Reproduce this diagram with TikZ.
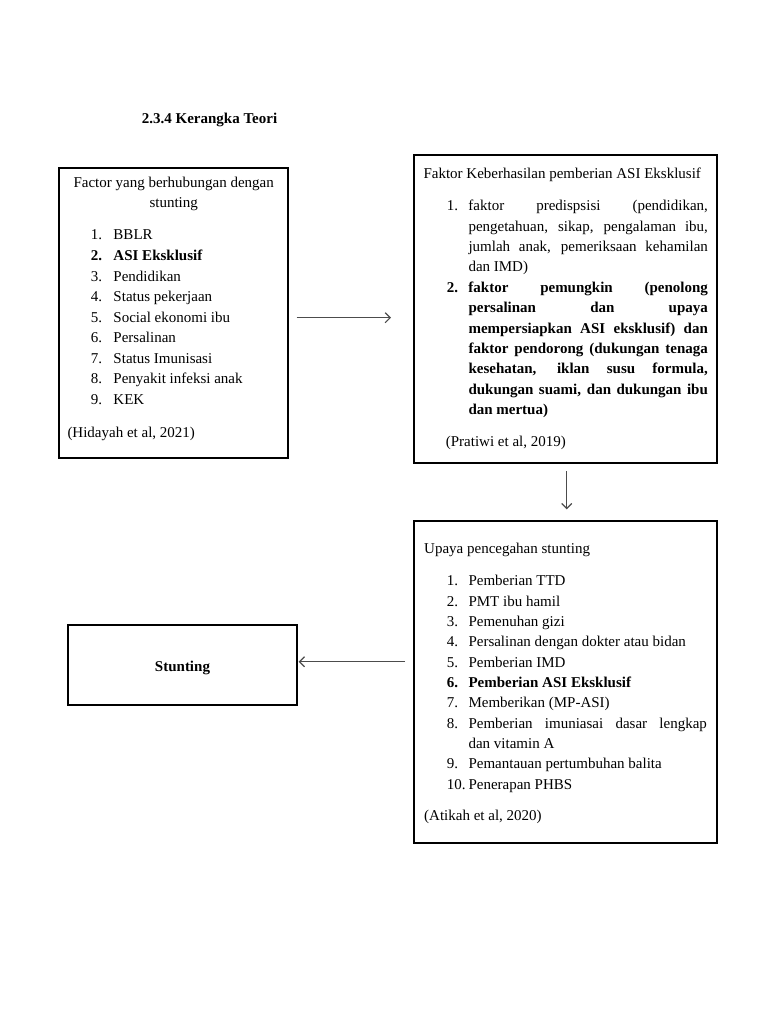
\documentclass[tikz,border=0pt]{standalone}
\usepackage{fontspec}
\setmainfont{Liberation Serif}
\usetikzlibrary{arrows.meta}
\newlength\numind
\newlength\numw
\newcommand\itm[2]{\par{\leftskip=\numind\relax\hangindent=\numw\relax\hangafter=1\noindent\makebox[\numw][l]{#1}#2\par}}
\newcommand\txtsetup{\tolerance=10000\hbadness=10000\hyphenpenalty=10000\exhyphenpenalty=10000\rightskip=0pt\relax\spaceskip=0pt\relax\xspaceskip=0pt\relax}
\tikzset{
  box/.style={draw=black, line width=2pt, inner sep=0pt},
  txt/.style={inner sep=0pt, anchor=base west, align=justify},
  arr/.style={draw=black!70, line width=1.2pt, -{Straight Barb[length=5pt,width=10pt]}}
}
\begin{document}
\begin{tikzpicture}[x=1pt,y=-1pt]
\fill[white] (0,0) rectangle (768,1024);
\path[use as bounding box] (0,0) rectangle (768,1024);

\node[inner sep=0pt, anchor=base west, font=\fontsize{15pt}{18pt}\selectfont\bfseries] (title) at (141.7,123.3) {2.3.4 Kerangka Teori};

% boxes
\node[box, minimum width=229pt, minimum height=290pt] (b1) at (173.5,313) {};
\node[box, minimum width=303pt, minimum height=308pt] (b2) at (565.5,309) {};
\node[box, minimum width=303pt, minimum height=322pt] (b3) at (565.5,682) {};
\node[box, minimum width=229pt, minimum height=80pt, font=\fontsize{15pt}{18pt}\selectfont\bfseries, text height=15.3pt, text depth=3.3pt] (b4) at (182.5,665) {Stunting};

% box 1 text
\node[txt, text width=212.4pt, font=\fontsize{15pt}{20.5pt}\selectfont] (t1) at (67.3,187.3) {\txtsetup\setlength\numind{23.4pt}\setlength\numw{22.6pt}%
{\centering Factor yang berhubungan dengan\\ stunting\par}
\vspace{11.7pt}
\itm{1.}{BBLR}
\itm{\textbf{2.}}{\textbf{ASI Eksklusif}}
\itm{3.}{Pendidikan}
\itm{4.}{Status pekerjaan}
\itm{5.}{Social ekonomi ibu}
\itm{6.}{Persalinan}
\itm{7.}{Status Imunisasi}
\itm{8.}{Penyakit infeksi anak}
\itm{9.}{KEK}
\vspace{12.5pt}
{\noindent(Hidayah et al, 2021)\par}};

% box 2 text
\node[txt, text width=284.4pt, font=\fontsize{15pt}{20.4pt}\selectfont] (t2) at (423.3,178.3) {\txtsetup\setlength\numind{23.4pt}\setlength\numw{21.6pt}%
Faktor Keberhasilan pemberian ASI Eksklusif\par
\vspace{12pt}
\itm{1.}{faktor predispsisi (pendidikan,\linebreak pengetahuan, sikap, pengalaman ibu,\linebreak jumlah anak, pemeriksaan kehamilan\linebreak dan IMD)}
\itm{\textbf{2.}}{{\bfseries faktor pemungkin (penolong\linebreak persalinan dan upaya\linebreak mempersiapkan ASI eksklusif) dan\linebreak faktor pendorong (dukungan tenaga\linebreak kesehatan, iklan susu formula,\linebreak dukungan suami, dan dukungan ibu\linebreak dan mertua)}}
\vspace{11.6pt}
{\leftskip=22.4pt\noindent(Pratiwi et al, 2019)\par}};

% box 3 text
\node[txt, text width=282.7pt, font=\fontsize{15pt}{20.35pt}\selectfont] (t3) at (424,553.3) {\txtsetup\setlength\numind{22.7pt}\setlength\numw{21.6pt}%
Upaya pencegahan stunting\par
\vspace{12.05pt}
\itm{1.}{Pemberian TTD}
\itm{2.}{PMT ibu hamil}
\itm{3.}{Pemenuhan gizi}
\itm{4.}{Persalinan dengan dokter atau bidan}
\itm{5.}{Pemberian IMD}
\itm{\textbf{6.}}{\textbf{Pemberian ASI Eksklusif}}
\itm{7.}{Memberikan (MP-ASI)}
\itm{8.}{Pemberian imuniasai dasar lengkap\linebreak dan vitamin A}
\itm{9.}{Pemantauan pertumbuhan balita}
\itm{10.}{Penerapan PHBS}
\vspace{10.45pt}
{\noindent(Atikah et al, 2020)\par}};

% connectors
\coordinate (y1) at (0,317.7);
\coordinate (x2) at (566.7,0);
\coordinate (y3) at (0,661.7);
\draw[arr, shorten <=7.7pt, shorten >=22pt] (b1.east |- y1) -- (b2.west |- y1);
\draw[arr, shorten <=7pt, shorten >=10.7pt] (b2.south -| x2) -- (b3.north -| x2);
\draw[arr, shorten <=8pt, shorten >=0.7pt] (b3.west |- y3) -- (b4.east |- y3);
\end{tikzpicture}
\end{document}
